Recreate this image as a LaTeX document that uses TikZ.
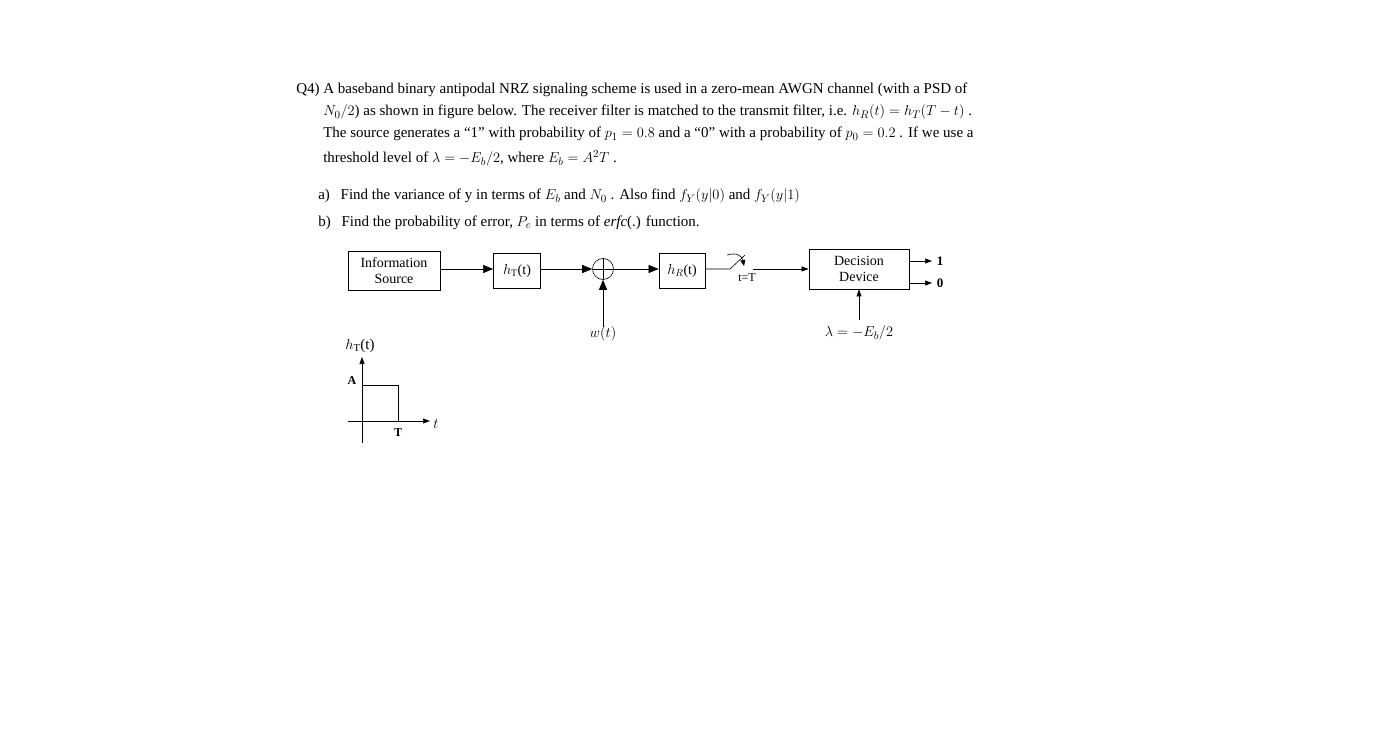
\documentclass[tikz,border=0pt]{standalone}
\usepackage{fontspec}
\setmainfont{Liberation Serif}
\usetikzlibrary{arrows.meta,positioning}
\begin{document}
\begin{tikzpicture}[x=1pt,y=-1pt,semithick,
    txt/.style={anchor=base west,inner sep=0pt,font=\fontsize{15}{17}\selectfont},
    blk/.style={draw,thick,inner sep=0pt,font=\fontsize{14}{16}\selectfont,align=center},
    lbl/.style={inner sep=0pt,font=\fontsize{15}{17}\selectfont},
    sig/.style={draw,-{Triangle[length=10pt,width=8pt]}},
    sml/.style={draw,-{Triangle[length=7pt,width=5pt]}}]
  \useasboundingbox (0,0) rectangle (1380,730);
  % question text
  \node[txt] (q1) at (296,94) {Q4) A baseband binary antipodal NRZ signaling scheme is used in a zero-mean AWGN channel (with a PSD of};
  \node[txt] (q2) at (323,116) {$N_0/2$) as shown in figure below. The receiver filter is matched to the transmit filter, i.e. $h_R(t)=h_T(T-t)$ .};
  \node[txt] (q3) at (323,138) {The source generates a “1” with probability of $p_1=0.8$ and a “0” with a probability of $p_0=0.2$ . If we use a};
  \node[txt] (q4) at (323,163) {threshold level of $\lambda=-E_b/2$, where $E_b=A^2T$ .};
  \node[txt] (qa) at (318,200) {a)\hspace{7pt} Find the variance of y in terms of $E_b$ and $N_0$ . Also find $f_Y(y|0)$ and $f_Y(y|1)$};
  \node[txt] (qb) at (318,226) {b)\hspace{7pt} Find the probability of error, $P_e$ in terms of \textit{erfc}(.) function.};
  % block diagram
  \node[blk,minimum width=92pt,minimum height=39pt] (src) at (394,271) {Information\\Source};
  \node[blk,minimum width=47pt,minimum height=35pt] (ht) at (517,271) {$h_{\mathrm T}$(t)};
  \node[draw,circle,minimum size=21pt,inner sep=0pt] (sum) at (603,269) {};
  \draw (sum.north) -- (sum.south) (sum.west) -- (sum.east);
  \node[blk,minimum width=46pt,minimum height=35pt] (hr) at (682,271) {$h_R$(t)};
  \node[blk,minimum width=100pt,minimum height=40pt] (dec) at (859,269) {Decision\\Device};
  \coordinate (sw1) at (730,269);
  \coordinate (sw2) at (753,269);
  \node[lbl,font=\fontsize{12}{14}\selectfont] (tT) at (747,278) {t=T};
  \node[lbl] (w) at (603,334) {$w(t)$};
  \node[lbl] (lam) at (859,333) {$\lambda=-E_b/2$};
  \node[lbl,font=\bfseries\fontsize{13}{15}\selectfont] (o1) at (940,261) {1};
  \node[lbl,font=\bfseries\fontsize{13}{15}\selectfont] (o0) at (940,283) {0};
  \path[sig] (src.east |- 0,269) -- (ht.west |- 0,269);
  \path[sig] (ht.east |- 0,269) -- (sum.west);
  \path[sig] (sum.east) -- (hr.west |- 0,269);
  \path[sig] (w.north) -- (sum.south);
  \draw (hr.east |- 0,269) -- (sw1) -- ++(15,-14);
  \draw[-{Triangle[length=6pt,width=5pt]}] (727,255) .. controls (737,252) and (742,256) .. (744,266);
  \path[sml] (sw2) -- (dec.west |- 0,269);
  \path[sml] (lam.north |- 0,320) -- (dec.south);
  \path[sml] (dec.east |- 0,261) -- (932,261);
  \path[sml] (dec.east |- 0,283) -- (932,283);
  % impulse response plot
  \node[lbl] (hlab) at (360,346) {$h_{\mathrm T}$(t)};
  \node[lbl,font=\bfseries\fontsize{12}{14}\selectfont] (Alab) at (352,381) {A};
  \node[lbl,font=\bfseries\fontsize{12}{14}\selectfont] (Tlab) at (398,433) {T};
  \node[lbl] (tlab) at (436,424) {$t$};
  \path[sml] (362,443) -- (362,357);
  \path[sml] (348,421) -- (430,421);
  \draw (362,385) -- (398,385) -- (398,421);
\end{tikzpicture}
\end{document}
